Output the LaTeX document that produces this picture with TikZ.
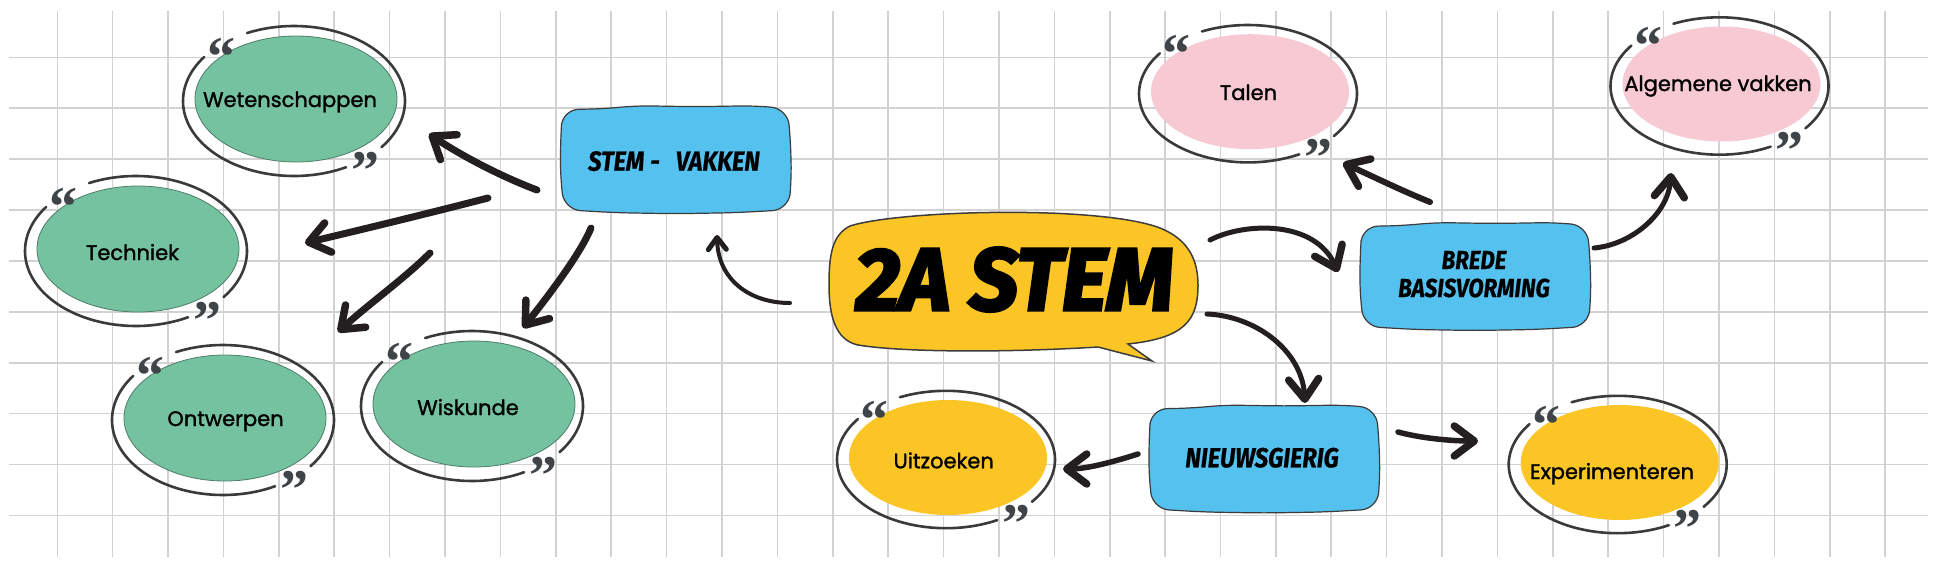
\documentclass[tikz,border=0pt]{standalone}
\usepackage{fontspec}
\usetikzlibrary{arrows.meta}
\newfontfamily\comicf{Poppins}[FakeBold=1.3]
\newfontfamily\brushf{Fira Sans}[FakeStretch=0.86,FakeBold=0.6]
\newfontfamily\brushheavy{Fira Sans}[FakeStretch=0.98,FakeBold=3.5]
\newfontfamily\quotef{Liberation Serif}
\definecolor{gridc}{HTML}{D2D2D2}
\definecolor{greenf}{HTML}{75C2A0}
\definecolor{greeno}{HTML}{4E7D68}
\definecolor{pinkf}{HTML}{F7CAD3}
\definecolor{yellowf}{HTML}{FCC526}
\definecolor{bluef}{HTML}{55C1EE}
\definecolor{ringc}{HTML}{3A3A3A}
\definecolor{quotec}{HTML}{3E4448}
\definecolor{arrowc}{HTML}{231F20}
\definecolor{outl}{HTML}{3C3C3C}
\tikzset{
  gridline/.style={draw=gridc, line width=1.6pt},
  ring/.style={draw=ringc, line width=2.6pt, line cap=round},
  qm/.style={font=\quotef\bfseries\fontsize{56}{56}\selectfont, text=quotec, inner sep=0pt, yshift=-12pt},
  ctext/.style={font=\comicf\fontsize{21}{21}\selectfont, inner sep=0pt, anchor=base},
  btext/.style={font=\brushf\bfseries\itshape\fontsize{27.6}{28}\selectfont, inner sep=0pt, anchor=base},
  greenfill/.style={fill=greenf, draw=greeno, line width=0.8pt},
  pinkfill/.style={fill=pinkf},
  yellowfill/.style={fill=yellowf},
  boxshape/.style={fill=bluef, draw=outl, line width=1.2pt, rounded corners=16pt},
  bluebox/.pic={\path[boxshape] (-113,-50) -- (-70,-51) -- (-40,-54) -- (20,-53) -- (80,-54) -- (112,-51) -- (115,-20) -- (116,20) -- (113,50) -- (60,53) -- (0,54) -- (-60,53) -- (-111,50) -- (-115,20) -- (-115,-20) -- cycle;},
  arr/.style={draw=arrowc, line width=6pt, line cap=round, -{Straight Barb[length=20pt,width=30pt,round,line width=7.5pt]}},
  arrs/.style={draw=arrowc, line width=4pt, line cap=round, -{Straight Barb[length=12pt,width=18pt,round,line width=5pt]}},
}
\newcommand\qell[8]{%
  \path[#7] (#1,#2) ellipse[x radius=#3, y radius=#4];
  \begin{scope}[shift={(#1-2,#2+2)}]
    \draw[ring] plot[domain=216:62,samples=60] ({#5*cos(\x)},{#6*sin(\x)});
    \draw[ring] plot[domain=38:-115,samples=60] ({#5*cos(\x)},{#6*sin(\x)});
    \node[qm] (#8-open) at ({#5*cos(229)},{#6*sin(229)}) {“};
    \node[qm] (#8-close) at ({#5*cos(50)},{#6*sin(50)}) {”};
  \end{scope}}
\begin{document}
\begin{tikzpicture}[x=1pt,y=-1pt]
\useasboundingbox (0,0) rectangle (1946,571);
\fill[white] (0,0) rectangle (1946,571);
% grid
\foreach \i in {0,...,33} \draw[gridline] ({57.3+\i*55.39},11) -- ({57.3+\i*55.39},557);
\foreach \j in {0,...,9} \draw[gridline] (9.3,{57.3+\j*50.9}) -- (1927.7,{57.3+\j*50.9});

% quote ellipses
\qell{296}{99}{101}{63}{111}{75}{greenfill}{wetq}
\qell{138}{249}{101}{63}{111}{75}{greenfill}{tecq}
\qell{225}{418}{101}{63}{111}{75}{greenfill}{ontq}
\qell{474}{404}{101}{63}{111}{75}{greenfill}{wisq}
\qell{1250}{91.7}{99}{57.5}{109}{68.7}{pinkfill}{talq}
\qell{1721.5}{84}{99}{57.5}{109}{68.7}{pinkfill}{algq}
\qell{948}{457.5}{99}{57.5}{109}{68.7}{yellowfill}{uitq}
\qell{1619.7}{462.5}{99}{57.5}{109}{68.7}{yellowfill}{expq}

\node[ctext] (wet) at (290,107) {Wetenschappen};
\node[ctext] (tec) at (132.5,260) {Techniek};
\node[ctext] (ont) at (225.5,426) {Ontwerpen};
\node[ctext] (wis) at (468,415) {Wiskunde};
\node[ctext] (tal) at (1248.5,100) {Talen};
\node[ctext] (alg) at (1718,91) {Algemene vakken};
\node[ctext] (uit) at (943.7,468.3) {Uitzoeken};
\node[ctext] (exp) at (1612,479) {Experimenteren};

% blue boxes
\pic at (675.5,159.7) {bluebox};
\pic at (1475,276.5) {bluebox};
\pic at (1264,459) {bluebox};
\node[btext] (vak) at (674,170.7) {STEM\hspace{6pt}-\hspace{16pt}VAKKEN};
\node[btext, font=\brushf\bfseries\itshape\fontsize{26}{26}\selectfont] (bre) at (1474,269) {BREDE};
\node[btext, font=\brushf\bfseries\itshape\fontsize{26}{26}\selectfont] (bas) at (1474,297) {BASISVORMING};
\node[btext] (nieu) at (1262,467.3) {NIEUWSGIERIG};

% speech bubble
\path[fill=yellowf, draw=outl, line width=1.5pt]
  (1098,347) .. controls (1000,353) and (900,352) .. (858,345)
  .. controls (835,340) and (829,315) .. (829,285)
  .. controls (829,255) and (832,235) .. (850,226)
  .. controls (900,210) and (1100,205) .. (1160,228)
  .. controls (1190,240) and (1198,262) .. (1198,285)
  .. controls (1198,320) and (1185,338) .. (1128,344)
  -- (1152,361) -- cycle;
\node[inner sep=0pt, anchor=base, font=\brushheavy\bfseries\itshape\fontsize{88}{88}\selectfont] (main) at (1014.7,310) {2A STEM};

% arrow end points
\coordinate (a1s) at (537,190);  \coordinate (a1e) at (429,134);
\coordinate (a2s) at (488,198);  \coordinate (a2e) at (305,243);
\coordinate (a3s) at (430,253);  \coordinate (a3e) at (338,332);
\coordinate (a4s) at (591,228);  \coordinate (a4e) at (523,328);
\coordinate (a5s) at (790,303);  \coordinate (a5e) at (717,235);
\coordinate (a6s) at (1210,240); \coordinate (a6e) at (1338,272);
\coordinate (a7s) at (1430,202); \coordinate (a7e) at (1343,163);
\coordinate (a8s) at (1594,248); \coordinate (a8e) at (1671,173);
\coordinate (a9s) at (1207,314); \coordinate (a9e) at (1305,403);
\coordinate (a10s) at (1138,454); \coordinate (a10e) at (1063,469);
\coordinate (a11s) at (1398,432); \coordinate (a11e) at (1478,441);

\draw[arr, line width=7pt] (a1s) .. controls (505,178) and (465,158) .. (a1e);
\draw[arr, line width=7pt] (a2s) .. controls (430,213) and (360,230) .. (a2e);
\draw[arr, line width=7pt] (a3s) .. controls (405,278) and (370,303) .. (a3e);
\draw[arr, line width=7pt] (a4s) .. controls (580,255) and (545,300) .. (a4e);
\draw[arrs] (a5s) .. controls (750,303) and (718,280) .. (a5e);
\draw[arr, line width=5pt] (a6s) .. controls (1245,222) and (1315,220) .. (a6e);
\draw[arr] (a7s) .. controls (1400,190) and (1370,175) .. (a7e);
\draw[arr, line width=5pt] (a8s) .. controls (1630,245) and (1668,215) .. (a8e);
\draw[arr, line width=5pt] (a9s) .. controls (1255,316) and (1302,350) .. (a9e);
\draw[arr, line width=5.5pt] (a10s) .. controls (1110,463) and (1085,469) .. (a10e);
\draw[arr, line width=5.5pt] (a11s) .. controls (1420,438) and (1450,441) .. (a11e);
\end{tikzpicture}
\end{document}
